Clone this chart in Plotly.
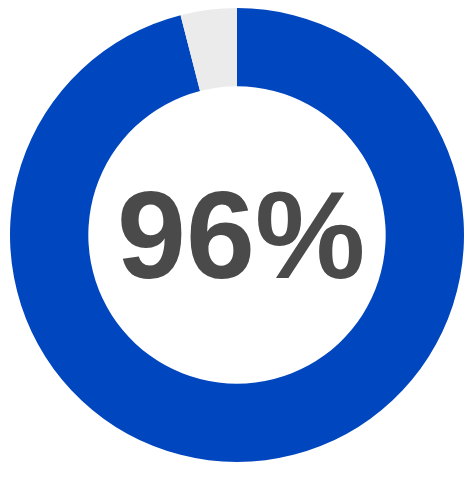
import plotly.graph_objects as go

# parts of the ring: share reached vs remaining
labels = ["Reached", "Remaining"]
values = [96, 4]
colors = ["#0046BE", "#EBEBEB"]
center_label = "96%"

# the page puts the figure 8px in from the top-left corner, so the ring is drawn 8px up/left
fig = go.Figure(
    go.Pie(
        labels=labels,
        values=values,
        hole=0.655,
        sort=False,
        direction="clockwise",
        rotation=0,
        marker=dict(colors=colors, line=dict(width=0)),
        textinfo="none",
        hoverinfo="label+percent",
        domain=dict(x=[2 / 474, 456 / 474], y=[1 - 454 / 477, 1.0]),
    )
)

fig.add_annotation(
    text=f"<b>{center_label}</b>",
    x=0.492, y=0.524, xref="paper", yref="paper",
    showarrow=False,
    font=dict(family="Liberation Sans, Arial, sans-serif", size=124, color="#4A4A4A"),
)

fig.update_layout(
    width=474, height=477,
    margin=dict(l=0, r=0, t=0, b=0),
    showlegend=False,
    paper_bgcolor="white",
    plot_bgcolor="white",
)

fig.write_html("out.html")
